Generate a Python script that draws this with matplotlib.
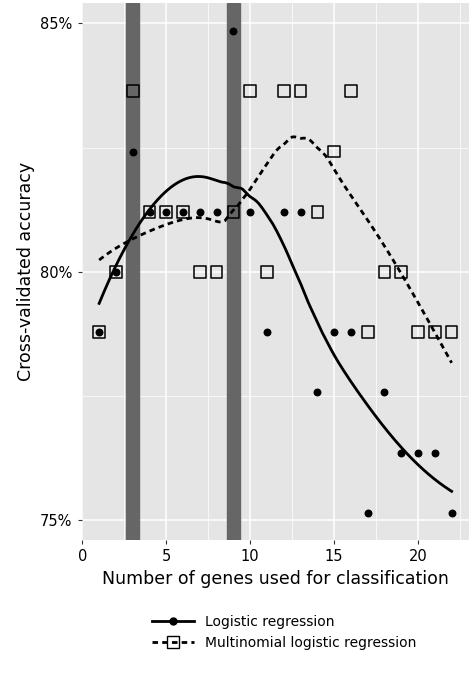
import numpy as np
import matplotlib
matplotlib.use("Agg")
import matplotlib.pyplot as plt
from matplotlib.lines import Line2D

genes = np.arange(1, 23)
logistic = [78.79, 80.0, 82.42, 81.21, 81.21, 81.21, 81.21, 81.21, 84.85, 81.21, 78.79,
            81.21, 81.21, 77.58, 78.79, 78.79, 75.15, 77.58, 76.36, 76.36, 76.36, 75.15]
multinom = [78.79, 80.0, 83.64, 81.21, 81.21, 81.21, 80.0, 80.0, 81.21, 83.64, 80.0,
            83.64, 83.64, 81.21, 82.42, 83.64, 78.79, 80.0, 80.0, 78.79, 78.79, 78.79]
highlight = [3, 9]

def loess(x, y, xs, span=0.75):
    x = np.asarray(x, float); y = np.asarray(y, float)
    n = len(x); q = int(np.floor(n * span))
    out = []
    for x0 in xs:
        d = np.abs(x - x0); h = np.sort(d)[q - 1]
        w = np.clip(1 - (d / h) ** 3, 0, None) ** 3
        X = np.vstack([np.ones(n), x - x0, (x - x0) ** 2]).T
        W = np.diag(w)
        b = np.linalg.lstsq(X.T @ W @ X, X.T @ W @ y, rcond=None)[0]
        out.append(b[0])
    return np.array(out)

fig = plt.figure(figsize=(4.74, 6.84), dpi=100)
ax = fig.add_axes([0.172, 0.21, 0.818, 0.785])
ax.set_facecolor("#e5e5e5")
ax.grid(True, color="white", lw=1.1, which="major")
ax.grid(True, color="white", lw=0.5, which="minor")
ax.set_axisbelow(True)
for s in ax.spines.values():
    s.set_visible(False)
for h in highlight:
    ax.axvspan(h - 0.4, h + 0.4, color="#666666", zorder=1)
xs = np.linspace(1, 22, 200)
ax.plot(xs, loess(genes, logistic, xs), color="black", lw=2, zorder=3)
ax.plot(xs, loess(genes, multinom, xs), color="black", lw=2, ls=(0, (2, 1.5)), zorder=3)
ax.scatter(genes, logistic, color="black", s=22, zorder=4)
ax.scatter(genes, multinom, facecolor="none", edgecolor="black", marker="s", s=70, lw=1.1, zorder=4)
ax.set_xlim(-0.05, 23.05)
ax.set_ylim(74.6, 85.4)
ax.set_xticks([0, 5, 10, 15, 20])
ax.set_xticks([2.5, 7.5, 12.5, 17.5, 22.5], minor=True)
ax.set_yticks([75, 80, 85])
ax.set_yticks([77.5, 82.5], minor=True)
ax.set_yticklabels(["75%", "80%", "85%"])
ax.tick_params(which="minor", length=0)
ax.tick_params(which="major", labelsize=10.5, color="#333333", length=3)
ax.set_xlabel("Number of genes used for classification", fontsize=12.5)
ax.set_ylabel("Cross-validated accuracy", fontsize=12.5)

handles = [Line2D([], [], color="black", lw=2, marker="o", ms=5),
           Line2D([], [], color="black", lw=2, ls=(0, (2, 1.5)), marker="s", ms=8,
                  markerfacecolor="none")]
fig.legend(handles, ["Logistic regression", "Multinomial logistic regression"],
           loc="center", bbox_to_anchor=(0.6, 0.075), frameon=False, fontsize=10,
           handlelength=3)
fig.savefig("out.png", dpi=100)
